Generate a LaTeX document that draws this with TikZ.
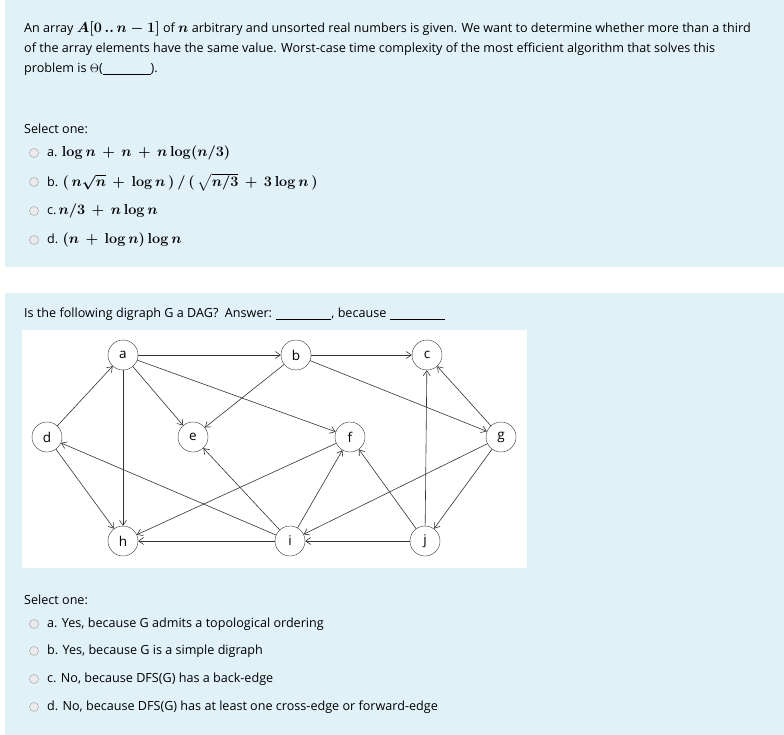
\documentclass[tikz,border=0pt]{standalone}
\usepackage{amsmath}
\usepackage[no-math]{fontspec}
\setmainfont{Open Sans}
\usetikzlibrary{arrows.meta}
\definecolor{panel}{HTML}{E0F1F8}
\newcommand{\bm}[1]{{\fontsize{14.5}{16}\selectfont$\boldsymbol{#1}$}}
\begin{document}
\begin{tikzpicture}[x=1pt,y=-1pt,
  txt/.style={anchor=west,inner sep=0pt,font=\fontsize{12.6}{14}\selectfont},
  vx/.style={circle,draw=black!80,fill=white,minimum size=30pt,inner sep=0pt,font=\fontsize{13.5}{14}\selectfont},
  ed/.style={draw=black!80,line width=0.6pt,-{Straight Barb[length=5pt,width=7pt]}},
  radio/.style={circle,draw=black!40,fill=black!8,minimum size=9pt,inner sep=0pt}]
\useasboundingbox (0,0) rectangle (784,735);
\fill[white] (0,0) rectangle (784,735);
\fill[panel] (5,0) rectangle (784,267);
\fill[panel] (5,293) rectangle (784,735);
\fill[white] (22,330) rectangle (527,568);
\node[txt] (t1) at (24,29) {An array \bm{A[0\,..\,n-1]} of \bm{n} arbitrary and unsorted real numbers is given. We want to determine whether more than a third};
\node[txt] (t2) at (24,49) {of the array elements have the same value. Worst-case time complexity of the most efficient algorithm that solves this};
\node[txt] (t3) at (24,69) {problem is $\Theta$(\underline{\hspace{48pt}}).};
\node[txt] (s1) at (24,129) {Select one:};
\foreach \y/\n in {153/r1,182/r2,211/r3,240/r4}{\node[radio] (\n) at (34,\y) {};}
\node[txt] (a1) at (47,153) {a. \bm{\log n\,+\,n\,+\,n\log(n/3)}};
\node[txt] (a2) at (47,182) {b. \bm{(\,n\sqrt{n}\,+\,\log n\,)\,/\,(\,\sqrt{n/3}\,+\,3\log n\,)}};
\node[txt] (a3) at (47,211) {c.\,\bm{n/3\,+\,n\log n}};
\node[txt] (a4) at (47,240) {d. \bm{(n\,+\,\log n)\log n}};
\node[txt] (q2) at (24,314) {Is the following digraph G a DAG?\ \ Answer: \underline{\hspace{55pt}}, because \underline{\hspace{55pt}}};
\node[vx] (a) at (123,355) {a};
\node[vx] (b) at (296,355) {b};
\node[vx] (c) at (427,355) {c};
\node[vx] (d) at (47,437) {d};
\node[vx] (e) at (193,437) {e};
\node[vx] (f) at (350,437) {f};
\node[vx] (g) at (501,437) {g};
\node[vx] (h) at (123,541) {h};
\node[vx] (i) at (290,541) {i};
\node[vx] (j) at (425,541) {j};
\foreach \u/\v in {a/b,b/c,d/a,d/h,a/h,a/e,a/f,b/e,b/g,g/c,g/i,g/j,i/d,i/e,i/f,i/h,f/h,j/c,j/f,j/i}{\draw[ed] (\u) -- (\v);}
\node[txt] (s2) at (24,600) {Select one:};
\foreach \y/\n in {624/q1,651/q2r,679/q3,707/q4}{\node[radio] (\n) at (34,\y) {};}
\node[txt] (b1) at (47,624) {a. Yes, because G admits a topological ordering};
\node[txt] (b2) at (47,651) {b. Yes, because G is a simple digraph};
\node[txt] (b3) at (47,679) {c. No, because DFS(G) has a back-edge};
\node[txt] (b4) at (47,707) {d. No, because DFS(G) has at least one cross-edge or forward-edge};
\end{tikzpicture}
\end{document}
